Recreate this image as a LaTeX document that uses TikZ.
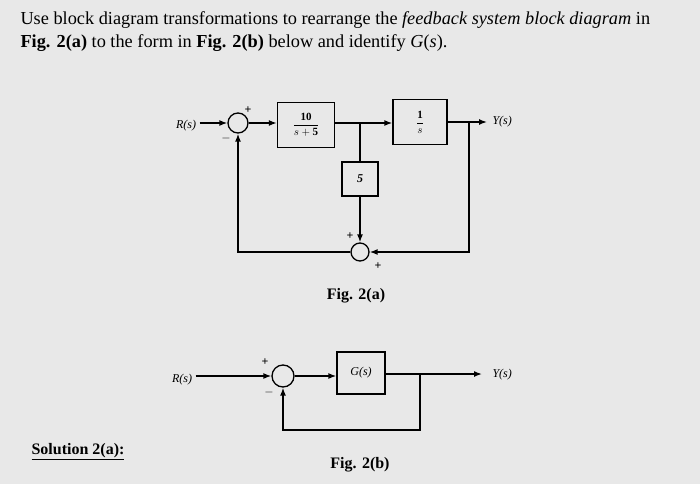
\documentclass[tikz,border=0pt]{standalone}
\usepackage{fontspec}
\setmainfont{Liberation Serif}
\usetikzlibrary{arrows.meta}
\begin{document}
\begin{tikzpicture}[x=1pt,y=-1pt,
  blk/.style={draw,line width=1.3pt,minimum width=0pt,inner sep=0pt},
  sumj/.style={draw,line width=1.3pt,circle,minimum size=20pt,inner sep=0pt},
  sig/.style={line width=1.5pt,-{Latex[length=8pt,width=6pt]}},
  ln/.style={line width=1.5pt},
  lab/.style={font=\fontsize{12}{14}\selectfont\itshape},
  sg/.style={font=\fontsize{12}{14}\selectfont\bfseries}]
\fill[gray!18] (0,0) rectangle (700,484);
\useasboundingbox (0,0) rectangle (700,484);
\node[anchor=west,font=\fontsize{18.3}{20}\selectfont] (t1) at (17,20) {Use block diagram transformations to rearrange the \textit{feedback system block diagram} in};
\node[anchor=west,font=\fontsize{18.3}{20}\selectfont] (t2) at (17,43) {\textbf{Fig. 2(a)} to the form in \textbf{Fig. 2(b)} below and identify \textit{G}(\textit{s}).};
% Fig 2(a)
\node[lab] (r1) at (186,126) {R(s)};
\node[sumj] (s1) at (238,123) {};
\node[blk,minimum width=57pt,minimum height=45pt] (b1) at (306,125) {\fontsize{11}{13}\selectfont$\displaystyle\frac{\mathbf{10}}{s+\mathbf{5}}$};
\node[blk,minimum width=54pt,minimum height=45pt] (b2) at (420,122) {\fontsize{11}{13}\selectfont$\displaystyle\frac{\mathbf{1}}{s}$};
\node[blk,minimum width=36pt,minimum height=34pt] (b3) at (360,179) {\fontsize{12}{14}\selectfont\bfseries\itshape 5};
\node[sumj,minimum size=18pt] (s2) at (360,252) {};
\coordinate (j1) at (360,123);
\coordinate (j2) at (469,122);
\coordinate (yo1) at (487,122);
\node[lab,anchor=west] (y1) at (489,122) {Y(s)};
\draw[sig] (r1.east|-s1) -- (s1.west);
\draw[sig] (s1.east) -- (b1.west|-s1);
\draw[ln] (b1.east|-j1) -- (j1);
\draw[sig] (j1) -- (b2.west|-j1);
\draw[ln] (j1) -- (b3.north);
\draw[sig] (b3.south) -- (s2.north);
\draw[sig] (b2.east|-j2) -- (yo1);
\draw[sig] (j2) |- (s2.east);
\draw[sig] (s2.west) -| (s1.south);
\node[sg] at (248,110) {+};
\node[sg] at (226,138) {$-$};
\node[sg] at (350,236) {+};
\node[sg] at (378,266) {+};
\node[font=\fontsize{16}{18}\selectfont\bfseries] (f1) at (356,296) {Fig. 2(a)};
% Fig 2(b)
\node[lab] (r2) at (182,380) {R(s)};
\node[sumj,minimum size=22pt] (s3) at (283,376) {};
\node[blk,minimum width=48pt,minimum height=42pt] (g) at (361,373) {\fontsize{12}{14}\selectfont\itshape G(s)};
\coordinate (j3) at (420,374);
\coordinate (yo2) at (482,374);
\node[lab,anchor=west] (y2) at (489,375) {Y(s)};
\draw[sig] (r2.east|-s3) -- (s3.west);
\draw[sig] (s3.east) -- (g.west|-s3);
\draw[sig] (g.east|-j3) -- (yo2);
\draw[sig] (j3) |- (283,430) -- (s3.south);
\node[sg] at (265,362) {+};
\node[sg] at (269,392) {$-$};
\node[font=\fontsize{16}{18}\selectfont\bfseries] (f2) at (360,465) {Fig. 2(b)};
\node[anchor=west,font=\fontsize{16}{18}\selectfont\bfseries] (sol) at (28,452) {\underline{Solution 2(a):}};
\end{tikzpicture}
\end{document}
